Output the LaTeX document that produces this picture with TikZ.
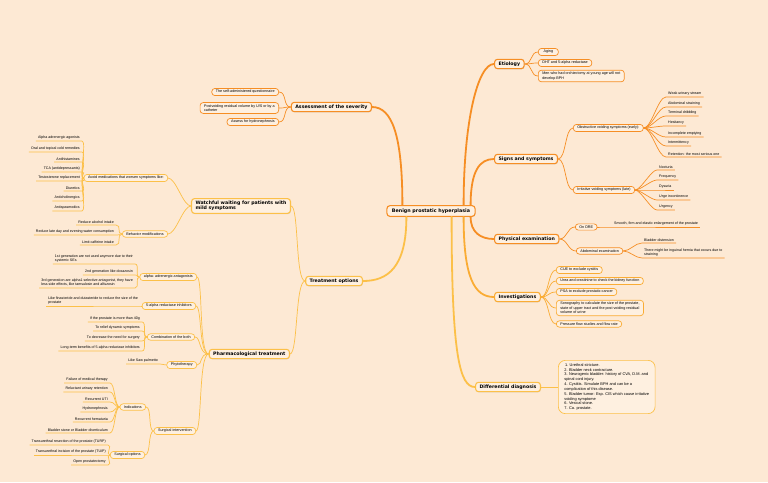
\documentclass[tikz,border=0pt]{standalone}
\usepackage{fontspec}
\setmainfont{Liberation Sans}
\newfontfamily\titlefont{DejaVu Sans}
\usepackage{xcolor}
\usepackage{tikz}
\usetikzlibrary{shadows}

\definecolor{bgpeach}{RGB}{253,233,212}
\definecolor{boxfill}{RGB}{254,240,224}
\definecolor{branchorange}{RGB}{246,142,36}
\definecolor{branchamber}{RGB}{250,172,52}
\definecolor{branchyellow}{RGB}{252,192,72}

\begin{document}
\begin{tikzpicture}[x=1pt, y=-1pt,
		main/.style={draw=#1, line width=1.1pt, rounded corners=3pt, fill=boxfill, inner xsep=4pt, inner ysep=2.4pt, align=left, font=\titlefont\bfseries\fontsize{4.7}{5.4}\selectfont, drop shadow={opacity=0.25, shadow xshift=0.4pt, shadow yshift=-0.7pt}},
		main/.default=branchorange,
		sub/.style={draw=#1, line width=0.7pt, rounded corners=3pt, fill=boxfill, inner xsep=4pt, inner ysep=1.8pt, align=left, font=\fontsize{3.7}{4.5}\selectfont},
		sub/.default=branchorange,
		leaf/.style={inner xsep=2pt, inner ysep=1.4pt, align=left, font=\fontsize{3.6}{4.4}\selectfont},
		link/.style={draw=#1, line width=0.7pt},
		link/.default=branchorange,
		stem/.style={draw=#1, line width=1.8pt, line cap=round}]

		\fill[bgpeach] (0,0) rectangle (768,482);
		\useasboundingbox (0,0) rectangle (768,482);

		\node[main, font=\titlefont\bfseries\fontsize{4.8}{5.6}\selectfont, inner xsep=5pt, inner ysep=3pt] (bph) at (431,211) {Benign prostatic hyperplasia};

		\node[main, anchor=west] (etio) at (494,64) {Etiology};
		\node[sub, anchor=west, minimum width=20pt] (aging) at (538,52) {Aging};
		\node[sub, anchor=west] (dht) at (538,63) {DHT and 5-alpha reductase};
		\node[sub, anchor=west] (orch) at (538,76) {Men who had orchiectomy at young age will not\\develop BPH};

		\node[main, anchor=west] (signs) at (494,159) {Signs and symptoms};
		\node[sub, anchor=west] (obst) at (573,128) {Obstructive voiding symptoms (early):};
		\node[leaf, anchor=south west] (weak) at (666,97) {Weak urinary stream};
		\node[leaf, anchor=south west] (strain) at (666,107) {Abdominal straining};
		\node[leaf, anchor=south west] (dribble) at (666,116) {Terminal dribbling};
		\node[leaf, anchor=south west] (hesit) at (666,126) {Hesitancy};
		\node[leaf, anchor=south west] (incompl) at (666,137) {Incomplete emptying};
		\node[leaf, anchor=south west] (intermit) at (666,146) {Intermittency};
		\node[leaf, anchor=south west] (retent) at (666,157) {Retention: the most serious one};
		\node[sub, anchor=west] (irrit) at (573,190) {Irritative voiding symptoms (late)};
		\node[leaf, anchor=south west] (noct) at (657,170) {Nocturia};
		\node[leaf, anchor=south west] (freq) at (657,180) {Frequency};
		\node[leaf, anchor=south west] (dysur) at (657,190) {Dysuria};
		\node[leaf, anchor=south west] (urgeinc) at (657,200) {Urge incontinence};
		\node[leaf, anchor=south west] (urgency) at (657,210) {Urgency};

		\node[main, anchor=west] (phys) at (494,239) {Physical examination};
		\node[sub, anchor=west] (dre) at (575,227) {On DRE};
		\node[leaf, anchor=south west] (smooth) at (612,227) {Smooth, firm and elastic  enlargement of the prostate};
		\node[sub, anchor=west] (abdex) at (576,251) {Abdominal examination};
		\node[leaf, anchor=south west] (distens) at (642,243) {Bladder distension};
		\node[leaf, anchor=south west] (hernia) at (642,258) {There might be inguinal hernia that occurs due to\\straining};

		\node[main=branchamber, anchor=west] (invest) at (494,297) {Investigations};
		\node[sub=branchamber, anchor=west] (cue) at (556,270) {CUE to exclude cystitis};
		\node[sub=branchamber, anchor=west] (urea) at (556,281) {Urea and creatinine to check the kidney function};
		\node[sub=branchamber, anchor=west] (psa) at (556,292) {PSA to exclude prostatic cancer};
		\node[sub=branchamber, anchor=west] (sono) at (556,308) {Sonography to calculate the size of the prostate,\\state of upper tract and the post voiding residual\\volume of urine};
		\node[sub=branchamber, anchor=west] (flowrate) at (556,324) {Pressure flow studies and flow rate};

		\node[main=branchyellow, anchor=west] (diff) at (475,387) {Differential diagnosis};
		\node[sub=branchyellow, anchor=west, inner xsep=6pt, inner ysep=3pt, rounded corners=7pt, font=\fontsize{3.9}{4.85}\selectfont] (ddx) at (558,387) {\,1. Urethral stricture.\\2. Bladder neck contracture.\\3. Neurogenic bladder: history of CVA, D.M. and\\spinal cord injury.\\4. Cystitis. Simulate BPH and can be a\\complication of this disease.\\5. Bladder tumor: Esp. CIS which cause irritative\\voiding symptome\\6. Vesical stone.\\7. Ca. prostate.};

		\node[main, anchor=east] (assess) at (372,107) {Assessment of the severity};
		\node[sub, anchor=east] (quest) at (279,92) {The self-administered questionnaire};
		\node[sub, anchor=east] (pvr) at (279,108) {Postvoiding residual volume by U/S or by a\\catheter};
		\node[sub, anchor=east] (hydro) at (279,122) {Assess for hydronephrosis};

		\node[main=branchyellow, anchor=east] (treat) at (363,281) {Treatment options};
		\node[main=branchyellow, anchor=east] (watch) at (291,206) {Watchful waiting for patients with\\mild symptoms};
		\node[sub=branchyellow, anchor=east] (avoid) at (168,178) {Avoid medications that worsen symptoms like:};
		\node[leaf, anchor=south east] (agonist) at (82,141) {Alpha adrenergic agonists};
		\node[leaf, anchor=south east] (cold) at (82,152) {Oral and topical cold remedies};
		\node[leaf, anchor=south east] (antihist) at (82,162) {Antihistamines};
		\node[leaf, anchor=south east] (tca) at (82,172) {TCA (antidepressants)};
		\node[leaf, anchor=south east] (testo) at (82,181) {Testosterone replacement};
		\node[leaf, anchor=south east] (diuret) at (82,191) {Diuretics};
		\node[leaf, anchor=south east] (anticho) at (82,201) {Anticholinergics};
		\node[leaf, anchor=south east] (antispas) at (82,211) {Antispasmodics};
		\node[sub=branchyellow, anchor=east] (behav) at (168,234) {Behavior modifications};
		\node[leaf, anchor=south east] (alcohol) at (116,225) {Reduce alcohol intake};
		\node[leaf, anchor=south east] (water) at (116,235) {Reduce late day and evening water consumption};
		\node[leaf, anchor=south east] (caffeine) at (116,245) {Limit caffeine intake};

		\node[main=branchyellow, anchor=east] (pharm) at (290,354) {Pharmacological treatment};
		\node[sub=branchyellow, anchor=east] (antag) at (197,277) {alpha- adrenergic antagonists};
		\node[leaf, anchor=south east] (firstgen) at (135,264) {1st generation are not used anymore due to their\\systemic SEs};
		\node[leaf, anchor=south east] (secondgen) at (135,275) {2nd generation like doxazosin};
		\node[leaf, anchor=south east] (thirdgen) at (135,288) {3rd generation are alpha1 selective antagonist, they have\\less side effects, like tamsulosin and alfuzosin};
		\node[sub=branchyellow, anchor=east] (fari) at (196,306) {5-alpha reductase inhibitors};
		\node[leaf, anchor=south east] (finas) at (140,306) {Like finasteride and dutasteride to reduce the size of the\\prostate};
		\node[sub=branchyellow, anchor=east] (combo) at (195,337) {Combination of the both};
		\node[leaf, anchor=south east] (fortyg) at (142,322) {If the prostate is more than 40g};
		\node[leaf, anchor=south east] (dynamic) at (142,331) {To relief dynamic symptoms};
		\node[leaf, anchor=south east] (lesssurg) at (142,341) {To decrease the need for surgery};
		\node[leaf, anchor=south east] (longterm) at (142,351) {Long-term benefits of 5-alpha reductase inhibitors};
		\node[sub=branchyellow, anchor=east] (phyto) at (197,365) {Phytotherapy};
		\node[leaf, anchor=south east] (saw) at (160,364) {Like Saw palmetto};
		\node[sub=branchyellow, anchor=east] (surg) at (196,431) {Surgical intervention};
		\node[sub=branchyellow, anchor=east] (indic) at (146,407) {Indications};
		\node[leaf, anchor=south east] (failmed) at (110,383) {Failure of medical therapy};
		\node[leaf, anchor=south east] (reluct) at (110,392) {Reluctant urinary retention};
		\node[leaf, anchor=south east] (uti) at (110,402) {Recurrent UTI};
		\node[leaf, anchor=south east] (hydroneph) at (110,412) {Hydronephrosis};
		\node[leaf, anchor=south east] (hematur) at (110,422) {Recurrent hematuria};
		\node[leaf, anchor=south east] (stone) at (110,433) {Bladder stone or Bladder diverticulum};
		\node[sub=branchyellow, anchor=east] (sopts) at (145,455) {Surgical options};
		\node[leaf, anchor=south east] (turp) at (108,445) {Transurethral resection of the prostate (TURP)};
		\node[leaf, anchor=south east] (tuip) at (108,455) {Transurethral incision of the prostate (TUIP)};
		\node[leaf, anchor=south east] (openpr) at (108,465) {Open prostatectomy};

		\draw[stem=branchorange] ([xshift=-12pt]bph.north east) .. controls +(0,-85) and +(-16,0) .. (etio.west);
		\draw[stem=branchorange] ([xshift=-5pt]bph.north east) .. controls +(0,-35) and +(-14,0) .. (signs.west);
		\draw[stem=branchorange] ([xshift=-5pt]bph.south east) .. controls +(0,15) and +(-14,0) .. (phys.west);
		\draw[stem=branchamber] ([xshift=-12pt]bph.south east) .. controls +(0,60) and +(-20,0) .. (invest.west);
		\draw[stem=branchyellow] ([xshift=-24pt]bph.south east) .. controls +(0,140) and +(-15,0) .. (diff.west);
		\draw[stem=branchorange] ([xshift=16pt]bph.north west) .. controls +(0,-70) and +(20,0) .. (assess.east);
		\draw[stem=branchyellow] ([xshift=20pt]bph.south west) .. controls +(0,50) and +(25,0) .. (treat.east);

		\draw[link] (etio.east) .. controls +(8,0) and +(-8,0) .. (aging.west);
		\draw[link] (etio.east) .. controls +(8,0) and +(-8,0) .. (dht.west);
		\draw[link] (etio.east) .. controls +(8,0) and +(-8,0) .. (orch.west);

		\draw[link] (signs.east) .. controls +(8,0) and +(-8,0) .. (obst.west);
		\draw[link] (signs.east) .. controls +(8,0) and +(-8,0) .. (irrit.west);
		\draw[link] (obst.east) .. controls +(8,0) and +(-8,0) .. (weak.south west) -- (weak.south east);
		\draw[link] (obst.east) .. controls +(8,0) and +(-8,0) .. (strain.south west) -- (strain.south east);
		\draw[link] (obst.east) .. controls +(8,0) and +(-8,0) .. (dribble.south west) -- (dribble.south east);
		\draw[link] (obst.east) .. controls +(8,0) and +(-8,0) .. (hesit.south west) -- (hesit.south east);
		\draw[link] (obst.east) .. controls +(8,0) and +(-8,0) .. (incompl.south west) -- (incompl.south east);
		\draw[link] (obst.east) .. controls +(8,0) and +(-8,0) .. (intermit.south west) -- (intermit.south east);
		\draw[link] (obst.east) .. controls +(8,0) and +(-8,0) .. (retent.south west) -- (retent.south east);
		\draw[link] (irrit.east) .. controls +(6,0) and +(-6,0) .. (noct.south west) -- (noct.south east);
		\draw[link] (irrit.east) .. controls +(6,0) and +(-6,0) .. (freq.south west) -- (freq.south east);
		\draw[link] (irrit.east) .. controls +(6,0) and +(-6,0) .. (dysur.south west) -- (dysur.south east);
		\draw[link] (irrit.east) .. controls +(6,0) and +(-6,0) .. (urgeinc.south west) -- (urgeinc.south east);
		\draw[link] (irrit.east) .. controls +(6,0) and +(-6,0) .. (urgency.south west) -- (urgency.south east);

		\draw[link] (phys.east) .. controls +(8,0) and +(-8,0) .. (dre.west);
		\draw[link] (phys.east) .. controls +(8,0) and +(-8,0) .. (abdex.west);
		\draw[link] (dre.east) .. controls +(6,0) and +(-6,0) .. (smooth.south west) -- (smooth.south east);
		\draw[link] (abdex.east) .. controls +(7,0) and +(-7,0) .. (distens.south west) -- (distens.south east);
		\draw[link] (abdex.east) .. controls +(7,0) and +(-7,0) .. (hernia.south west) -- (hernia.south east);

		\draw[link=branchamber] (invest.east) .. controls +(8,0) and +(-8,0) .. (cue.west);
		\draw[link=branchamber] (invest.east) .. controls +(8,0) and +(-8,0) .. (urea.west);
		\draw[link=branchamber] (invest.east) .. controls +(8,0) and +(-8,0) .. (psa.west);
		\draw[link=branchamber] (invest.east) .. controls +(8,0) and +(-8,0) .. (sono.west);
		\draw[link=branchamber] (invest.east) .. controls +(8,0) and +(-8,0) .. (flowrate.west);

		\draw[link=branchyellow] (diff.east) .. controls +(8,0) and +(-8,0) .. (ddx.west);

		\draw[link] (assess.west) .. controls +(-8,0) and +(8,0) .. (quest.east);
		\draw[link] (assess.west) .. controls +(-8,0) and +(8,0) .. (pvr.east);
		\draw[link] (assess.west) .. controls +(-8,0) and +(8,0) .. (hydro.east);

		\draw[link=branchyellow] (treat.west) .. controls +(-10,0) and +(8,0) .. (watch.east);
		\draw[link=branchyellow] (treat.west) .. controls +(-10,0) and +(8,0) .. (pharm.east);

		\draw[link=branchyellow] (watch.west) .. controls +(-8,0) and +(8,0) .. (avoid.east);
		\draw[link=branchyellow] (watch.west) .. controls +(-8,0) and +(8,0) .. (behav.east);
		\draw[link=branchyellow] (avoid.west) .. controls +(-5,0) and +(5,0) .. (agonist.south east) -- (agonist.south west);
		\draw[link=branchyellow] (avoid.west) .. controls +(-5,0) and +(5,0) .. (cold.south east) -- (cold.south west);
		\draw[link=branchyellow] (avoid.west) .. controls +(-5,0) and +(5,0) .. (antihist.south east) -- (antihist.south west);
		\draw[link=branchyellow] (avoid.west) .. controls +(-5,0) and +(5,0) .. (tca.south east) -- (tca.south west);
		\draw[link=branchyellow] (avoid.west) .. controls +(-5,0) and +(5,0) .. (testo.south east) -- (testo.south west);
		\draw[link=branchyellow] (avoid.west) .. controls +(-5,0) and +(5,0) .. (diuret.south east) -- (diuret.south west);
		\draw[link=branchyellow] (avoid.west) .. controls +(-5,0) and +(5,0) .. (anticho.south east) -- (anticho.south west);
		\draw[link=branchyellow] (avoid.west) .. controls +(-5,0) and +(5,0) .. (antispas.south east) -- (antispas.south west);
		\draw[link=branchyellow] (behav.west) .. controls +(-6,0) and +(6,0) .. (alcohol.south east) -- (alcohol.south west);
		\draw[link=branchyellow] (behav.west) .. controls +(-6,0) and +(6,0) .. (water.south east) -- (water.south west);
		\draw[link=branchyellow] (behav.west) .. controls +(-6,0) and +(6,0) .. (caffeine.south east) -- (caffeine.south west);

		\draw[link=branchyellow] (pharm.west) .. controls +(-10,0) and +(6,0) .. (antag.east);
		\draw[link=branchyellow] (pharm.west) .. controls +(-10,0) and +(6,0) .. (fari.east);
		\draw[link=branchyellow] (pharm.west) .. controls +(-10,0) and +(6,0) .. (combo.east);
		\draw[link=branchyellow] (pharm.west) .. controls +(-10,0) and +(6,0) .. (phyto.east);
		\draw[link=branchyellow] (pharm.west) .. controls +(-10,0) and +(6,0) .. (surg.east);
		\draw[link=branchyellow] (antag.west) .. controls +(-5,0) and +(5,0) .. (firstgen.south east) -- (firstgen.south west);
		\draw[link=branchyellow] (antag.west) .. controls +(-5,0) and +(5,0) .. (secondgen.south east) -- (secondgen.south west);
		\draw[link=branchyellow] (antag.west) .. controls +(-5,0) and +(5,0) .. (thirdgen.south east) -- (thirdgen.south west);
		\draw[link=branchyellow] (fari.west) .. controls +(-4,0) and +(4,0) .. (finas.south east) -- (finas.south west);
		\draw[link=branchyellow] (combo.west) .. controls +(-5,0) and +(5,0) .. (fortyg.south east) -- (fortyg.south west);
		\draw[link=branchyellow] (combo.west) .. controls +(-5,0) and +(5,0) .. (dynamic.south east) -- (dynamic.south west);
		\draw[link=branchyellow] (combo.west) .. controls +(-5,0) and +(5,0) .. (lesssurg.south east) -- (lesssurg.south west);
		\draw[link=branchyellow] (combo.west) .. controls +(-5,0) and +(5,0) .. (longterm.south east) -- (longterm.south west);
		\draw[link=branchyellow] (phyto.west) .. controls +(-4,0) and +(4,0) .. (saw.south east) -- (saw.south west);
		\draw[link=branchyellow] (surg.west) .. controls +(-6,0) and +(6,0) .. (indic.east);
		\draw[link=branchyellow] (surg.west) .. controls +(-6,0) and +(6,0) .. (sopts.east);
		\draw[link=branchyellow] (indic.west) .. controls +(-5,0) and +(5,0) .. (failmed.south east) -- (failmed.south west);
		\draw[link=branchyellow] (indic.west) .. controls +(-5,0) and +(5,0) .. (reluct.south east) -- (reluct.south west);
		\draw[link=branchyellow] (indic.west) .. controls +(-5,0) and +(5,0) .. (uti.south east) -- (uti.south west);
		\draw[link=branchyellow] (indic.west) .. controls +(-5,0) and +(5,0) .. (hydroneph.south east) -- (hydroneph.south west);
		\draw[link=branchyellow] (indic.west) .. controls +(-5,0) and +(5,0) .. (hematur.south east) -- (hematur.south west);
		\draw[link=branchyellow] (indic.west) .. controls +(-5,0) and +(5,0) .. (stone.south east) -- (stone.south west);
		\draw[link=branchyellow] (sopts.west) .. controls +(-5,0) and +(5,0) .. (turp.south east) -- (turp.south west);
		\draw[link=branchyellow] (sopts.west) .. controls +(-5,0) and +(5,0) .. (tuip.south east) -- (tuip.south west);
		\draw[link=branchyellow] (sopts.west) .. controls +(-5,0) and +(5,0) .. (openpr.south east) -- (openpr.south west);
	\end{tikzpicture}
\end{document}
